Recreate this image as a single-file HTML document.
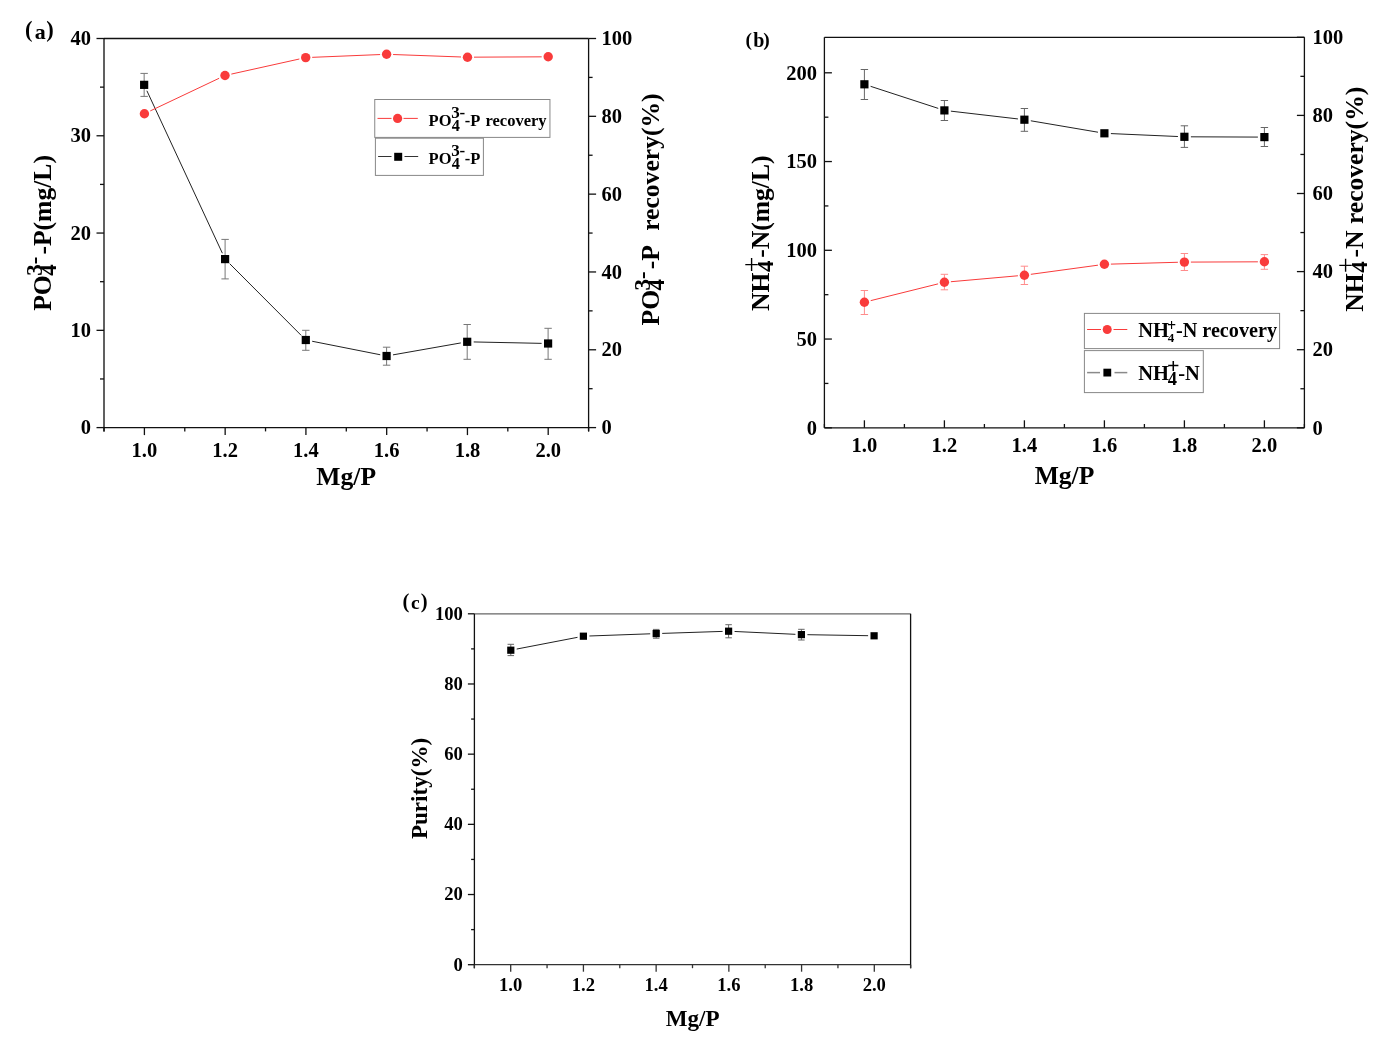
<!DOCTYPE html>
<html><head><meta charset="utf-8"><title>Mg/P figure</title>
<style>html,body{margin:0;padding:0;background:#fff;overflow:hidden;}svg{display:block;}</style>
</head><body>
<svg width="1399" height="1043" viewBox="0 0 1399 1043" font-family="Liberation Serif, Times New Roman, serif" font-weight="bold">
<line x1="104.00" y1="38.50" x2="588.60" y2="38.50" stroke="#111" stroke-width="1.3" />
<line x1="104.00" y1="427.60" x2="588.60" y2="427.60" stroke="#111" stroke-width="1.3" />
<line x1="104.00" y1="38.50" x2="104.00" y2="431.40" stroke="#000" stroke-width="1.25" />
<line x1="588.60" y1="38.50" x2="588.60" y2="431.40" stroke="#111" stroke-width="1.3" />
<line x1="96.50" y1="427.60" x2="104.00" y2="427.60" stroke="#111" stroke-width="1.3" />
<line x1="100.00" y1="378.96" x2="104.00" y2="378.96" stroke="#111" stroke-width="1.3" />
<line x1="96.50" y1="330.33" x2="104.00" y2="330.33" stroke="#111" stroke-width="1.3" />
<line x1="100.00" y1="281.69" x2="104.00" y2="281.69" stroke="#111" stroke-width="1.3" />
<line x1="96.50" y1="233.05" x2="104.00" y2="233.05" stroke="#111" stroke-width="1.3" />
<line x1="100.00" y1="184.41" x2="104.00" y2="184.41" stroke="#111" stroke-width="1.3" />
<line x1="96.50" y1="135.78" x2="104.00" y2="135.78" stroke="#111" stroke-width="1.3" />
<line x1="100.00" y1="87.14" x2="104.00" y2="87.14" stroke="#111" stroke-width="1.3" />
<line x1="96.50" y1="38.50" x2="104.00" y2="38.50" stroke="#111" stroke-width="1.3" />
<text x="91.08" y="434.30" font-size="20.5" text-anchor="end">0</text>
<text x="91.08" y="337.03" font-size="20.5" text-anchor="end">10</text>
<text x="91.08" y="239.75" font-size="20.5" text-anchor="end">20</text>
<text x="91.08" y="142.48" font-size="20.5" text-anchor="end">30</text>
<text x="91.08" y="45.20" font-size="20.5" text-anchor="end">40</text>
<line x1="588.60" y1="427.60" x2="596.10" y2="427.60" stroke="#111" stroke-width="1.3" />
<line x1="588.60" y1="388.69" x2="592.60" y2="388.69" stroke="#111" stroke-width="1.3" />
<line x1="588.60" y1="349.78" x2="596.10" y2="349.78" stroke="#111" stroke-width="1.3" />
<line x1="588.60" y1="310.87" x2="592.60" y2="310.87" stroke="#111" stroke-width="1.3" />
<line x1="588.60" y1="271.96" x2="596.10" y2="271.96" stroke="#111" stroke-width="1.3" />
<line x1="588.60" y1="233.05" x2="592.60" y2="233.05" stroke="#111" stroke-width="1.3" />
<line x1="588.60" y1="194.14" x2="596.10" y2="194.14" stroke="#111" stroke-width="1.3" />
<line x1="588.60" y1="155.23" x2="592.60" y2="155.23" stroke="#111" stroke-width="1.3" />
<line x1="588.60" y1="116.32" x2="596.10" y2="116.32" stroke="#111" stroke-width="1.3" />
<line x1="588.60" y1="77.41" x2="592.60" y2="77.41" stroke="#111" stroke-width="1.3" />
<line x1="588.60" y1="38.50" x2="596.10" y2="38.50" stroke="#111" stroke-width="1.3" />
<text x="601.4" y="434.30" font-size="20.5">0</text>
<text x="601.4" y="356.48" font-size="20.5">20</text>
<text x="601.4" y="278.66" font-size="20.5">40</text>
<text x="601.4" y="200.84" font-size="20.5">60</text>
<text x="601.4" y="123.02" font-size="20.5">80</text>
<text x="601.4" y="45.20" font-size="20.5">100</text>
<line x1="104.02" y1="427.60" x2="104.02" y2="431.40" stroke="#111" stroke-width="1.3" />
<line x1="144.40" y1="427.60" x2="144.40" y2="435.10" stroke="#111" stroke-width="1.3" />
<line x1="184.78" y1="427.60" x2="184.78" y2="431.40" stroke="#111" stroke-width="1.3" />
<line x1="225.16" y1="427.60" x2="225.16" y2="435.10" stroke="#111" stroke-width="1.3" />
<line x1="265.54" y1="427.60" x2="265.54" y2="431.40" stroke="#111" stroke-width="1.3" />
<line x1="305.92" y1="427.60" x2="305.92" y2="435.10" stroke="#111" stroke-width="1.3" />
<line x1="346.30" y1="427.60" x2="346.30" y2="431.40" stroke="#111" stroke-width="1.3" />
<line x1="386.68" y1="427.60" x2="386.68" y2="435.10" stroke="#111" stroke-width="1.3" />
<line x1="427.06" y1="427.60" x2="427.06" y2="431.40" stroke="#111" stroke-width="1.3" />
<line x1="467.44" y1="427.60" x2="467.44" y2="435.10" stroke="#111" stroke-width="1.3" />
<line x1="507.82" y1="427.60" x2="507.82" y2="431.40" stroke="#111" stroke-width="1.3" />
<line x1="548.20" y1="427.60" x2="548.20" y2="435.10" stroke="#111" stroke-width="1.3" />
<line x1="588.58" y1="427.60" x2="588.58" y2="431.40" stroke="#111" stroke-width="1.3" />
<text x="144.40" y="456.90" font-size="20.5" text-anchor="middle">1.0</text>
<text x="225.16" y="456.90" font-size="20.5" text-anchor="middle">1.2</text>
<text x="305.92" y="456.90" font-size="20.5" text-anchor="middle">1.4</text>
<text x="386.68" y="456.90" font-size="20.5" text-anchor="middle">1.6</text>
<text x="467.44" y="456.90" font-size="20.5" text-anchor="middle">1.8</text>
<text x="548.20" y="456.90" font-size="20.5" text-anchor="middle">2.0</text>
<text x="316.36" y="484.70" font-size="25.6" >Mg/P</text>
<text x="24.91" y="37.40" font-size="22.5" >(</text>
<text x="34.69" y="38.50" font-size="22" >a</text>
<text x="46.27" y="37.40" font-size="22.5" >)</text>
<line x1="146.89" y1="90.74" x2="222.36" y2="253.21" stroke="#222" stroke-width="1.0" />
<line x1="229.69" y1="263.70" x2="301.21" y2="335.40" stroke="#222" stroke-width="1.0" />
<line x1="312.18" y1="341.26" x2="380.22" y2="354.74" stroke="#222" stroke-width="1.0" />
<line x1="393.00" y1="354.87" x2="460.80" y2="342.93" stroke="#222" stroke-width="1.0" />
<line x1="473.70" y1="341.94" x2="541.60" y2="343.36" stroke="#222" stroke-width="1.0" />
<line x1="150.27" y1="110.92" x2="219.13" y2="78.28" stroke="#F93B3B" stroke-width="1.0" />
<line x1="231.35" y1="74.09" x2="299.35" y2="59.01" stroke="#F93B3B" stroke-width="1.0" />
<line x1="312.19" y1="57.34" x2="380.11" y2="54.56" stroke="#F93B3B" stroke-width="1.0" />
<line x1="393.10" y1="54.53" x2="461.00" y2="56.97" stroke="#F93B3B" stroke-width="1.0" />
<line x1="474.00" y1="57.17" x2="541.70" y2="56.83" stroke="#F93B3B" stroke-width="1.0" />
<line x1="144.15" y1="73.40" x2="144.15" y2="96.40" stroke="#777" stroke-width="1.0" />
<line x1="140.45" y1="73.40" x2="147.85" y2="73.40" stroke="#777" stroke-width="1.0" />
<line x1="140.45" y1="96.40" x2="147.85" y2="96.40" stroke="#777" stroke-width="1.0" />
<line x1="225.10" y1="239.40" x2="225.10" y2="278.90" stroke="#777" stroke-width="1.0" />
<line x1="221.40" y1="239.40" x2="228.80" y2="239.40" stroke="#777" stroke-width="1.0" />
<line x1="221.40" y1="278.90" x2="228.80" y2="278.90" stroke="#777" stroke-width="1.0" />
<line x1="305.80" y1="330.30" x2="305.80" y2="350.30" stroke="#777" stroke-width="1.0" />
<line x1="302.10" y1="330.30" x2="309.50" y2="330.30" stroke="#777" stroke-width="1.0" />
<line x1="302.10" y1="350.30" x2="309.50" y2="350.30" stroke="#777" stroke-width="1.0" />
<line x1="386.60" y1="347.20" x2="386.60" y2="365.20" stroke="#777" stroke-width="1.0" />
<line x1="382.90" y1="347.20" x2="390.30" y2="347.20" stroke="#777" stroke-width="1.0" />
<line x1="382.90" y1="365.20" x2="390.30" y2="365.20" stroke="#777" stroke-width="1.0" />
<line x1="467.20" y1="324.50" x2="467.20" y2="359.30" stroke="#777" stroke-width="1.0" />
<line x1="463.50" y1="324.50" x2="470.90" y2="324.50" stroke="#777" stroke-width="1.0" />
<line x1="463.50" y1="359.30" x2="470.90" y2="359.30" stroke="#777" stroke-width="1.0" />
<line x1="548.10" y1="328.30" x2="548.10" y2="359.30" stroke="#777" stroke-width="1.0" />
<line x1="544.40" y1="328.30" x2="551.80" y2="328.30" stroke="#777" stroke-width="1.0" />
<line x1="544.40" y1="359.30" x2="551.80" y2="359.30" stroke="#777" stroke-width="1.0" />
<rect x="140.05" y="80.75" width="8.2" height="8.2" fill="#000"/>
<rect x="221.00" y="255.00" width="8.2" height="8.2" fill="#000"/>
<rect x="301.70" y="335.90" width="8.2" height="8.2" fill="#000"/>
<rect x="382.50" y="351.90" width="8.2" height="8.2" fill="#000"/>
<rect x="463.10" y="337.70" width="8.2" height="8.2" fill="#000"/>
<rect x="544.00" y="339.40" width="8.2" height="8.2" fill="#000"/>
<circle cx="144.40" cy="113.70" r="4.7" fill="#F93B3B"/>
<circle cx="225.00" cy="75.50" r="4.7" fill="#F93B3B"/>
<circle cx="305.70" cy="57.60" r="4.7" fill="#F93B3B"/>
<circle cx="386.60" cy="54.30" r="4.7" fill="#F93B3B"/>
<circle cx="467.50" cy="57.20" r="4.7" fill="#F93B3B"/>
<circle cx="548.20" cy="56.80" r="4.7" fill="#F93B3B"/>
<rect x="374.75" y="99.5" width="175.2" height="37.9" fill="none" stroke="#888" stroke-width="1"/>
<rect x="375.4" y="138.2" width="108" height="37.2" fill="none" stroke="#888" stroke-width="1"/>
<line x1="377.50" y1="118.40" x2="391.50" y2="118.40" stroke="#F93B3B" stroke-width="1" />
<line x1="403.50" y1="118.40" x2="417.80" y2="118.40" stroke="#F93B3B" stroke-width="1" />
<circle cx="397.60" cy="118.40" r="4.6" fill="#F93B3B"/>
<line x1="378.10" y1="156.50" x2="391.50" y2="156.50" stroke="#333" stroke-width="1" />
<line x1="404.50" y1="156.50" x2="418.20" y2="156.50" stroke="#333" stroke-width="1" />
<rect x="394.20" y="152.80" width="8" height="8" fill="#000"/>
<text x="428.62" y="125.60" font-size="16.5" >PO</text>
<text x="451.36" y="117.70" font-size="17" >3</text>
<text x="459.48" y="117.70" font-size="17" >-</text>
<text x="451.78" y="130.70" font-size="16.3" >4</text>
<text x="464.80" y="125.60" font-size="16.5" >-P</text>
<text x="485.46" y="125.60" font-size="16.5" >recovery</text>
<text x="428.62" y="163.60" font-size="16.5" >PO</text>
<text x="451.36" y="155.70" font-size="17" >3</text>
<text x="459.48" y="155.70" font-size="17" >-</text>
<text x="451.78" y="168.70" font-size="16.3" >4</text>
<text x="464.80" y="163.60" font-size="16.5" >-P</text>
<text transform="translate(50.50,310.84) rotate(-90)" font-size="25.6">PO</text>
<text transform="translate(41.50,275.80) rotate(-90)" font-size="23">3-</text>
<text transform="translate(56.10,275.85) rotate(-90)" font-size="23">4</text>
<text transform="translate(50.50,254.57) rotate(-90)" font-size="25.6">-P(mg/L)</text>
<text transform="translate(658.50,325.44) rotate(-90)" font-size="25.6">PO</text>
<text transform="translate(649.50,290.40) rotate(-90)" font-size="23">3-</text>
<text transform="translate(664.10,290.45) rotate(-90)" font-size="23">4</text>
<text transform="translate(658.50,269.18) rotate(-90)" font-size="25.6">-P</text>
<text transform="translate(658.50,230.79) rotate(-90)" font-size="25.6">recovery(%)</text>
<line x1="824.40" y1="37.30" x2="1304.40" y2="37.30" stroke="#111" stroke-width="1.3" />
<line x1="824.40" y1="427.80" x2="1304.40" y2="427.80" stroke="#111" stroke-width="1.3" />
<line x1="824.40" y1="37.30" x2="824.40" y2="427.80" stroke="#111" stroke-width="1.3" />
<line x1="1304.40" y1="37.30" x2="1304.40" y2="427.80" stroke="#111" stroke-width="1.3" />
<line x1="824.40" y1="427.80" x2="831.90" y2="427.80" stroke="#111" stroke-width="1.3" />
<line x1="824.40" y1="383.43" x2="828.40" y2="383.43" stroke="#111" stroke-width="1.3" />
<line x1="824.40" y1="339.05" x2="831.90" y2="339.05" stroke="#111" stroke-width="1.3" />
<line x1="824.40" y1="294.68" x2="828.40" y2="294.68" stroke="#111" stroke-width="1.3" />
<line x1="824.40" y1="250.30" x2="831.90" y2="250.30" stroke="#111" stroke-width="1.3" />
<line x1="824.40" y1="205.93" x2="828.40" y2="205.93" stroke="#111" stroke-width="1.3" />
<line x1="824.40" y1="161.55" x2="831.90" y2="161.55" stroke="#111" stroke-width="1.3" />
<line x1="824.40" y1="117.18" x2="828.40" y2="117.18" stroke="#111" stroke-width="1.3" />
<line x1="824.40" y1="72.80" x2="831.90" y2="72.80" stroke="#111" stroke-width="1.3" />
<text x="816.98" y="434.50" font-size="20.5" text-anchor="end">0</text>
<text x="816.98" y="345.75" font-size="20.5" text-anchor="end">50</text>
<text x="816.98" y="257.00" font-size="20.5" text-anchor="end">100</text>
<text x="816.98" y="168.25" font-size="20.5" text-anchor="end">150</text>
<text x="816.98" y="79.50" font-size="20.5" text-anchor="end">200</text>
<line x1="1296.90" y1="427.80" x2="1304.40" y2="427.80" stroke="#111" stroke-width="1.3" />
<line x1="1300.40" y1="388.75" x2="1304.40" y2="388.75" stroke="#111" stroke-width="1.3" />
<line x1="1296.90" y1="349.70" x2="1304.40" y2="349.70" stroke="#111" stroke-width="1.3" />
<line x1="1300.40" y1="310.65" x2="1304.40" y2="310.65" stroke="#111" stroke-width="1.3" />
<line x1="1296.90" y1="271.60" x2="1304.40" y2="271.60" stroke="#111" stroke-width="1.3" />
<line x1="1300.40" y1="232.55" x2="1304.40" y2="232.55" stroke="#111" stroke-width="1.3" />
<line x1="1296.90" y1="193.50" x2="1304.40" y2="193.50" stroke="#111" stroke-width="1.3" />
<line x1="1300.40" y1="154.45" x2="1304.40" y2="154.45" stroke="#111" stroke-width="1.3" />
<line x1="1296.90" y1="115.40" x2="1304.40" y2="115.40" stroke="#111" stroke-width="1.3" />
<line x1="1300.40" y1="76.35" x2="1304.40" y2="76.35" stroke="#111" stroke-width="1.3" />
<line x1="1296.90" y1="37.30" x2="1304.40" y2="37.30" stroke="#111" stroke-width="1.3" />
<text x="1312.4" y="434.50" font-size="20.5">0</text>
<text x="1312.4" y="356.40" font-size="20.5">20</text>
<text x="1312.4" y="278.30" font-size="20.5">40</text>
<text x="1312.4" y="200.20" font-size="20.5">60</text>
<text x="1312.4" y="122.10" font-size="20.5">80</text>
<text x="1312.4" y="44.00" font-size="20.5">100</text>
<line x1="824.40" y1="427.80" x2="824.40" y2="424.00" stroke="#111" stroke-width="1.3" />
<line x1="864.40" y1="427.80" x2="864.40" y2="420.30" stroke="#111" stroke-width="1.3" />
<line x1="904.40" y1="427.80" x2="904.40" y2="424.00" stroke="#111" stroke-width="1.3" />
<line x1="944.40" y1="427.80" x2="944.40" y2="420.30" stroke="#111" stroke-width="1.3" />
<line x1="984.40" y1="427.80" x2="984.40" y2="424.00" stroke="#111" stroke-width="1.3" />
<line x1="1024.40" y1="427.80" x2="1024.40" y2="420.30" stroke="#111" stroke-width="1.3" />
<line x1="1064.40" y1="427.80" x2="1064.40" y2="424.00" stroke="#111" stroke-width="1.3" />
<line x1="1104.40" y1="427.80" x2="1104.40" y2="420.30" stroke="#111" stroke-width="1.3" />
<line x1="1144.40" y1="427.80" x2="1144.40" y2="424.00" stroke="#111" stroke-width="1.3" />
<line x1="1184.40" y1="427.80" x2="1184.40" y2="420.30" stroke="#111" stroke-width="1.3" />
<line x1="1224.40" y1="427.80" x2="1224.40" y2="424.00" stroke="#111" stroke-width="1.3" />
<line x1="1264.40" y1="427.80" x2="1264.40" y2="420.30" stroke="#111" stroke-width="1.3" />
<line x1="1304.40" y1="427.80" x2="1304.40" y2="424.00" stroke="#111" stroke-width="1.3" />
<text x="864.40" y="452.40" font-size="20.5" text-anchor="middle">1.0</text>
<text x="944.40" y="452.40" font-size="20.5" text-anchor="middle">1.2</text>
<text x="1024.40" y="452.40" font-size="20.5" text-anchor="middle">1.4</text>
<text x="1104.40" y="452.40" font-size="20.5" text-anchor="middle">1.6</text>
<text x="1184.40" y="452.40" font-size="20.5" text-anchor="middle">1.8</text>
<text x="1264.40" y="452.40" font-size="20.5" text-anchor="middle">2.0</text>
<text x="1034.66" y="483.50" font-size="25.6" >Mg/P</text>
<text x="745.45" y="45.80" font-size="19.4" >(</text>
<text x="753.35" y="46.60" font-size="20" >b</text>
<text x="763.17" y="45.80" font-size="19.4" >)</text>
<line x1="870.58" y1="86.32" x2="938.22" y2="108.38" stroke="#222" stroke-width="1.0" />
<line x1="950.86" y1="111.15" x2="1017.94" y2="118.95" stroke="#222" stroke-width="1.0" />
<line x1="1030.81" y1="120.79" x2="1097.99" y2="132.21" stroke="#222" stroke-width="1.0" />
<line x1="1110.89" y1="133.58" x2="1177.91" y2="136.52" stroke="#222" stroke-width="1.0" />
<line x1="1190.90" y1="136.82" x2="1257.90" y2="137.08" stroke="#222" stroke-width="1.0" />
<line x1="870.71" y1="300.63" x2="938.09" y2="283.87" stroke="#F93B3B" stroke-width="1.0" />
<line x1="950.87" y1="281.73" x2="1017.93" y2="275.77" stroke="#F93B3B" stroke-width="1.0" />
<line x1="1030.84" y1="274.32" x2="1097.96" y2="265.18" stroke="#F93B3B" stroke-width="1.0" />
<line x1="1110.90" y1="264.12" x2="1177.90" y2="262.28" stroke="#F93B3B" stroke-width="1.0" />
<line x1="1190.90" y1="262.08" x2="1257.90" y2="261.82" stroke="#F93B3B" stroke-width="1.0" />
<line x1="864.40" y1="69.50" x2="864.40" y2="99.50" stroke="#666" stroke-width="1.0" />
<line x1="860.70" y1="69.50" x2="868.10" y2="69.50" stroke="#666" stroke-width="1.0" />
<line x1="860.70" y1="99.50" x2="868.10" y2="99.50" stroke="#666" stroke-width="1.0" />
<line x1="944.40" y1="100.50" x2="944.40" y2="120.50" stroke="#666" stroke-width="1.0" />
<line x1="940.70" y1="100.50" x2="948.10" y2="100.50" stroke="#666" stroke-width="1.0" />
<line x1="940.70" y1="120.50" x2="948.10" y2="120.50" stroke="#666" stroke-width="1.0" />
<line x1="1024.40" y1="108.50" x2="1024.40" y2="131.30" stroke="#666" stroke-width="1.0" />
<line x1="1020.70" y1="108.50" x2="1028.10" y2="108.50" stroke="#666" stroke-width="1.0" />
<line x1="1020.70" y1="131.30" x2="1028.10" y2="131.30" stroke="#666" stroke-width="1.0" />
<line x1="1184.40" y1="125.80" x2="1184.40" y2="147.40" stroke="#666" stroke-width="1.0" />
<line x1="1180.70" y1="125.80" x2="1188.10" y2="125.80" stroke="#666" stroke-width="1.0" />
<line x1="1180.70" y1="147.40" x2="1188.10" y2="147.40" stroke="#666" stroke-width="1.0" />
<line x1="1264.40" y1="127.50" x2="1264.40" y2="146.50" stroke="#666" stroke-width="1.0" />
<line x1="1260.70" y1="127.50" x2="1268.10" y2="127.50" stroke="#666" stroke-width="1.0" />
<line x1="1260.70" y1="146.50" x2="1268.10" y2="146.50" stroke="#666" stroke-width="1.0" />
<line x1="864.40" y1="290.50" x2="864.40" y2="314.50" stroke="#FF8C8C" stroke-width="1.0" />
<line x1="860.70" y1="290.50" x2="868.10" y2="290.50" stroke="#FF8C8C" stroke-width="1.0" />
<line x1="860.70" y1="314.50" x2="868.10" y2="314.50" stroke="#FF8C8C" stroke-width="1.0" />
<line x1="944.40" y1="274.30" x2="944.40" y2="289.80" stroke="#FF8C8C" stroke-width="1.0" />
<line x1="940.70" y1="274.30" x2="948.10" y2="274.30" stroke="#FF8C8C" stroke-width="1.0" />
<line x1="940.70" y1="289.80" x2="948.10" y2="289.80" stroke="#FF8C8C" stroke-width="1.0" />
<line x1="1024.40" y1="266.20" x2="1024.40" y2="284.50" stroke="#FF8C8C" stroke-width="1.0" />
<line x1="1020.70" y1="266.20" x2="1028.10" y2="266.20" stroke="#FF8C8C" stroke-width="1.0" />
<line x1="1020.70" y1="284.50" x2="1028.10" y2="284.50" stroke="#FF8C8C" stroke-width="1.0" />
<line x1="1184.40" y1="253.50" x2="1184.40" y2="270.50" stroke="#FF8C8C" stroke-width="1.0" />
<line x1="1180.70" y1="253.50" x2="1188.10" y2="253.50" stroke="#FF8C8C" stroke-width="1.0" />
<line x1="1180.70" y1="270.50" x2="1188.10" y2="270.50" stroke="#FF8C8C" stroke-width="1.0" />
<line x1="1264.40" y1="254.60" x2="1264.40" y2="269.30" stroke="#FF8C8C" stroke-width="1.0" />
<line x1="1260.70" y1="254.60" x2="1268.10" y2="254.60" stroke="#FF8C8C" stroke-width="1.0" />
<line x1="1260.70" y1="269.30" x2="1268.10" y2="269.30" stroke="#FF8C8C" stroke-width="1.0" />
<rect x="860.30" y="80.20" width="8.2" height="8.2" fill="#000"/>
<rect x="940.30" y="106.30" width="8.2" height="8.2" fill="#000"/>
<rect x="1020.30" y="115.60" width="8.2" height="8.2" fill="#000"/>
<rect x="1100.30" y="129.20" width="8.2" height="8.2" fill="#000"/>
<rect x="1180.30" y="132.70" width="8.2" height="8.2" fill="#000"/>
<rect x="1260.30" y="133.00" width="8.2" height="8.2" fill="#000"/>
<circle cx="864.40" cy="302.20" r="4.7" fill="#F93B3B"/>
<circle cx="944.40" cy="282.30" r="4.7" fill="#F93B3B"/>
<circle cx="1024.40" cy="275.20" r="4.7" fill="#F93B3B"/>
<circle cx="1104.40" cy="264.30" r="4.7" fill="#F93B3B"/>
<circle cx="1184.40" cy="262.10" r="4.7" fill="#F93B3B"/>
<circle cx="1264.40" cy="261.80" r="4.7" fill="#F93B3B"/>
<rect x="1084.4" y="313.4" width="195.2" height="35.2" fill="none" stroke="#888" stroke-width="1"/>
<rect x="1084.4" y="350.6" width="118.9" height="42" fill="none" stroke="#888" stroke-width="1"/>
<line x1="1087.10" y1="329.50" x2="1101.00" y2="329.50" stroke="#F93B3B" stroke-width="1" />
<line x1="1113.50" y1="329.50" x2="1127.30" y2="329.50" stroke="#F93B3B" stroke-width="1" />
<circle cx="1107.20" cy="329.50" r="4.5" fill="#F93B3B"/>
<line x1="1087.10" y1="372.60" x2="1100.00" y2="372.60" stroke="#8a8a8a" stroke-width="1.5" />
<line x1="1114.50" y1="372.60" x2="1127.30" y2="372.60" stroke="#8a8a8a" stroke-width="1.5" />
<rect x="1103.40" y="368.70" width="7.8" height="7.8" fill="#000"/>
<text x="1138.21" y="336.90" font-size="20.5" >NH</text>
<text x="1166.94" y="330.61" font-size="16">+</text>
<text x="1167.82" y="342.00" font-size="13" >4</text>
<text x="1175.96" y="336.90" font-size="20.2" >-N recovery</text>
<text x="1138.21" y="380.30" font-size="20.5" >NH</text>
<text x="1166.93" y="372.50" font-size="22">+</text>
<text x="1167.75" y="384.90" font-size="18.5" >4</text>
<text x="1178.25" y="380.30" font-size="20.5" >-N</text>
<text transform="translate(768.50,310.89) rotate(-90)" font-size="25.6">NH</text>
<text transform="translate(773.20,271.90) rotate(-90)" font-size="23">4</text>
<text transform="translate(760.70,272.40) rotate(-90)" font-size="28" font-weight="normal">+</text>
<text transform="translate(768.50,257.82) rotate(-90)" font-size="25.6">-N(mg/L)</text>
<text transform="translate(1362.60,311.69) rotate(-90)" font-size="25.6">NH</text>
<text transform="translate(1367.30,272.70) rotate(-90)" font-size="23">4</text>
<text transform="translate(1354.80,273.20) rotate(-90)" font-size="28" font-weight="normal">+</text>
<text transform="translate(1362.60,257.52) rotate(-90)" font-size="25.6">-N recovery(%)</text>
<line x1="474.40" y1="613.80" x2="910.60" y2="613.80" stroke="#666" stroke-width="1.2" />
<line x1="474.40" y1="964.70" x2="910.60" y2="964.70" stroke="#333" stroke-width="1.3" />
<line x1="474.40" y1="613.80" x2="474.40" y2="968.20" stroke="#111" stroke-width="1.3" />
<line x1="910.60" y1="613.80" x2="910.60" y2="968.20" stroke="#111" stroke-width="1.3" />
<line x1="467.90" y1="964.70" x2="474.40" y2="964.70" stroke="#111" stroke-width="1.3" />
<line x1="471.10" y1="929.61" x2="474.40" y2="929.61" stroke="#111" stroke-width="1.3" />
<line x1="467.90" y1="894.52" x2="474.40" y2="894.52" stroke="#111" stroke-width="1.3" />
<line x1="471.10" y1="859.43" x2="474.40" y2="859.43" stroke="#111" stroke-width="1.3" />
<line x1="467.90" y1="824.34" x2="474.40" y2="824.34" stroke="#111" stroke-width="1.3" />
<line x1="471.10" y1="789.25" x2="474.40" y2="789.25" stroke="#111" stroke-width="1.3" />
<line x1="467.90" y1="754.16" x2="474.40" y2="754.16" stroke="#111" stroke-width="1.3" />
<line x1="471.10" y1="719.07" x2="474.40" y2="719.07" stroke="#111" stroke-width="1.3" />
<line x1="467.90" y1="683.98" x2="474.40" y2="683.98" stroke="#111" stroke-width="1.3" />
<line x1="471.10" y1="648.89" x2="474.40" y2="648.89" stroke="#111" stroke-width="1.3" />
<line x1="467.90" y1="613.80" x2="474.40" y2="613.80" stroke="#111" stroke-width="1.3" />
<text x="462.91" y="970.60" font-size="18.6" text-anchor="end">0</text>
<text x="462.91" y="900.42" font-size="18.6" text-anchor="end">20</text>
<text x="462.91" y="830.24" font-size="18.6" text-anchor="end">40</text>
<text x="462.91" y="760.06" font-size="18.6" text-anchor="end">60</text>
<text x="462.91" y="689.88" font-size="18.6" text-anchor="end">80</text>
<text x="462.91" y="619.70" font-size="18.6" text-anchor="end">100</text>
<line x1="474.34" y1="964.70" x2="474.34" y2="968.20" stroke="#333" stroke-width="1.3" />
<line x1="510.70" y1="964.70" x2="510.70" y2="971.70" stroke="#333" stroke-width="1.3" />
<line x1="547.06" y1="964.70" x2="547.06" y2="968.20" stroke="#333" stroke-width="1.3" />
<line x1="583.42" y1="964.70" x2="583.42" y2="971.70" stroke="#333" stroke-width="1.3" />
<line x1="619.78" y1="964.70" x2="619.78" y2="968.20" stroke="#333" stroke-width="1.3" />
<line x1="656.14" y1="964.70" x2="656.14" y2="971.70" stroke="#333" stroke-width="1.3" />
<line x1="692.50" y1="964.70" x2="692.50" y2="968.20" stroke="#333" stroke-width="1.3" />
<line x1="728.86" y1="964.70" x2="728.86" y2="971.70" stroke="#333" stroke-width="1.3" />
<line x1="765.22" y1="964.70" x2="765.22" y2="968.20" stroke="#333" stroke-width="1.3" />
<line x1="801.58" y1="964.70" x2="801.58" y2="971.70" stroke="#333" stroke-width="1.3" />
<line x1="837.94" y1="964.70" x2="837.94" y2="968.20" stroke="#333" stroke-width="1.3" />
<line x1="874.30" y1="964.70" x2="874.30" y2="971.70" stroke="#333" stroke-width="1.3" />
<line x1="910.66" y1="964.70" x2="910.66" y2="968.20" stroke="#333" stroke-width="1.3" />
<text x="510.70" y="991.00" font-size="18.6" text-anchor="middle">1.0</text>
<text x="583.42" y="991.00" font-size="18.6" text-anchor="middle">1.2</text>
<text x="656.14" y="991.00" font-size="18.6" text-anchor="middle">1.4</text>
<text x="728.86" y="991.00" font-size="18.6" text-anchor="middle">1.6</text>
<text x="801.58" y="991.00" font-size="18.6" text-anchor="middle">1.8</text>
<text x="874.30" y="991.00" font-size="18.6" text-anchor="middle">2.0</text>
<text x="665.71" y="1025.50" font-size="23.1" >Mg/P</text>
<text x="402.39" y="607.60" font-size="20.6" >(</text>
<text x="410.93" y="608.50" font-size="19.5" >c</text>
<text x="420.64" y="607.60" font-size="20.6" >)</text>
<text transform="translate(426.70,839.09) rotate(-90)" font-size="23.1">Purity(%)</text>
<line x1="516.69" y1="649.06" x2="577.51" y2="637.34" stroke="#222" stroke-width="1.0" />
<line x1="589.40" y1="635.99" x2="650.20" y2="633.81" stroke="#222" stroke-width="1.0" />
<line x1="662.20" y1="633.40" x2="722.60" y2="631.40" stroke="#222" stroke-width="1.0" />
<line x1="734.59" y1="631.48" x2="795.41" y2="634.32" stroke="#222" stroke-width="1.0" />
<line x1="807.40" y1="634.70" x2="868.10" y2="635.70" stroke="#222" stroke-width="1.0" />
<line x1="510.80" y1="644.30" x2="510.80" y2="655.60" stroke="#666" stroke-width="1.0" />
<line x1="507.55" y1="644.30" x2="514.05" y2="644.30" stroke="#666" stroke-width="1.0" />
<line x1="507.55" y1="655.60" x2="514.05" y2="655.60" stroke="#666" stroke-width="1.0" />
<line x1="656.20" y1="629.40" x2="656.20" y2="638.20" stroke="#666" stroke-width="1.0" />
<line x1="652.95" y1="629.40" x2="659.45" y2="629.40" stroke="#666" stroke-width="1.0" />
<line x1="652.95" y1="638.20" x2="659.45" y2="638.20" stroke="#666" stroke-width="1.0" />
<line x1="728.60" y1="624.70" x2="728.60" y2="637.80" stroke="#666" stroke-width="1.0" />
<line x1="725.35" y1="624.70" x2="731.85" y2="624.70" stroke="#666" stroke-width="1.0" />
<line x1="725.35" y1="637.80" x2="731.85" y2="637.80" stroke="#666" stroke-width="1.0" />
<line x1="801.40" y1="629.30" x2="801.40" y2="640.00" stroke="#666" stroke-width="1.0" />
<line x1="798.15" y1="629.30" x2="804.65" y2="629.30" stroke="#666" stroke-width="1.0" />
<line x1="798.15" y1="640.00" x2="804.65" y2="640.00" stroke="#666" stroke-width="1.0" />
<rect x="507.20" y="646.60" width="7.2" height="7.2" fill="#000"/>
<rect x="579.80" y="632.60" width="7.2" height="7.2" fill="#000"/>
<rect x="652.60" y="630.00" width="7.2" height="7.2" fill="#000"/>
<rect x="725.00" y="627.60" width="7.2" height="7.2" fill="#000"/>
<rect x="797.80" y="631.00" width="7.2" height="7.2" fill="#000"/>
<rect x="870.50" y="632.20" width="7.2" height="7.2" fill="#000"/>
</svg>
</body></html>
